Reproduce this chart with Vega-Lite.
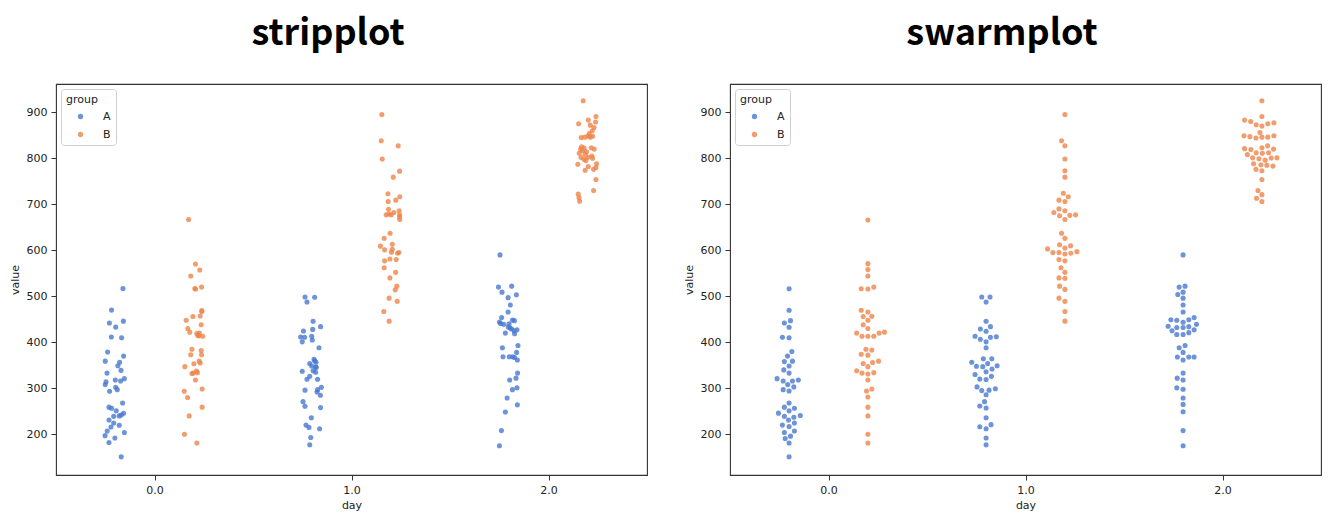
{
  "$schema": "https://vega.github.io/schema/vega-lite/v6.json",
  "background": "white",
  "padding": {"left": 8, "top": 15, "right": 8, "bottom": 7},
  "config": {
    "view": {"stroke": "#333333", "strokeWidth": 1.1},
    "axis": {"grid": false, "domain": false, "labelFont": "DejaVu Sans", "labelFontSize": 11, "labelColor": "#222222", "titleFont": "DejaVu Sans", "titleFontSize": 11, "titleFontWeight": "normal", "titleColor": "#222222", "tickColor": "#333333", "tickSize": 5, "labelPadding": 4},
    "axisY": {"titlePadding": 6},
    "axisX": {"titlePadding": 4},
    "title": {"font": "Noto Sans CJK JP", "fontSize": 36, "fontWeight": "bold", "color": "#000000", "anchor": "middle", "frame": "bounds", "baseline": "alphabetic", "offset": 31},
    "legend": {"orient": "top-left", "offset": 5, "fillColor": "rgba(255,255,255,0.8)", "strokeColor": "#d0d0d0", "cornerRadius": 3, "padding": 5, "titleFont": "DejaVu Sans", "titleFontSize": 11, "titleFontWeight": "normal", "titleColor": "#222222", "titlePadding": 6, "labelFont": "DejaVu Sans", "labelFontSize": 11, "labelColor": "#222222", "symbolType": "circle", "symbolSize": 28, "symbolOpacity": 0.8, "symbolStrokeWidth": 0, "symbolOffset": 9, "labelOffset": 17, "rowPadding": 6}
  },
  "datasets": {
    "strip": [
      {"group":"A","x":-0.160,"value":517},{"group":"A","x":-0.218,"value":470},{"group":"A","x":-0.229,"value":442},{"group":"A","x":-0.197,"value":433},{"group":"A","x":-0.158,"value":446},{"group":"A","x":-0.219,"value":411.5},{"group":"A","x":-0.167,"value":410},{"group":"A","x":-0.238,"value":379},{"group":"A","x":-0.250,"value":359},{"group":"A","x":-0.157,"value":370},{"group":"A","x":-0.177,"value":356.5},{"group":"A","x":-0.186,"value":349},{"group":"A","x":-0.170,"value":339},{"group":"A","x":-0.241,"value":333},{"group":"A","x":-0.153,"value":321},{"group":"A","x":-0.199,"value":318},{"group":"A","x":-0.172,"value":316},{"group":"A","x":-0.246,"value":314},{"group":"A","x":-0.250,"value":308},{"group":"A","x":-0.197,"value":302},{"group":"A","x":-0.189,"value":297},{"group":"A","x":-0.228,"value":293.5},{"group":"A","x":-0.162,"value":268},{"group":"A","x":-0.231,"value":259},{"group":"A","x":-0.218,"value":256.5},{"group":"A","x":-0.194,"value":251},{"group":"A","x":-0.157,"value":245.6},{"group":"A","x":-0.179,"value":240},{"group":"A","x":-0.169,"value":242},{"group":"A","x":-0.207,"value":239},{"group":"A","x":-0.231,"value":231},{"group":"A","x":-0.207,"value":224.6},{"group":"A","x":-0.179,"value":219.6},{"group":"A","x":-0.221,"value":216},{"group":"A","x":-0.240,"value":207},{"group":"A","x":-0.251,"value":197},{"group":"A","x":-0.153,"value":204},{"group":"A","x":-0.201,"value":192},{"group":"A","x":-0.231,"value":182},{"group":"A","x":-0.169,"value":151},
      {"group":"B","x":0.173,"value":667},{"group":"B","x":0.208,"value":570},{"group":"B","x":0.230,"value":557},{"group":"B","x":0.184,"value":544},{"group":"B","x":0.205,"value":517},{"group":"B","x":0.239,"value":520},{"group":"B","x":0.208,"value":516},{"group":"B","x":0.240,"value":467},{"group":"B","x":0.240,"value":469},{"group":"B","x":0.232,"value":457},{"group":"B","x":0.195,"value":456},{"group":"B","x":0.161,"value":448},{"group":"B","x":0.237,"value":438},{"group":"B","x":0.169,"value":430},{"group":"B","x":0.179,"value":422},{"group":"B","x":0.228,"value":420},{"group":"B","x":0.215,"value":419},{"group":"B","x":0.220,"value":415},{"group":"B","x":0.225,"value":414},{"group":"B","x":0.245,"value":413},{"group":"B","x":0.190,"value":385},{"group":"B","x":0.237,"value":382},{"group":"B","x":0.184,"value":373},{"group":"B","x":0.239,"value":373},{"group":"B","x":0.227,"value":359},{"group":"B","x":0.200,"value":353.5},{"group":"B","x":0.232,"value":355},{"group":"B","x":0.154,"value":347},{"group":"B","x":0.213,"value":337.6},{"group":"B","x":0.190,"value":332},{"group":"B","x":0.197,"value":333},{"group":"B","x":0.218,"value":334},{"group":"B","x":0.208,"value":318},{"group":"B","x":0.151,"value":293.5},{"group":"B","x":0.242,"value":298.5},{"group":"B","x":0.168,"value":280},{"group":"B","x":0.242,"value":259},{"group":"B","x":0.176,"value":240},{"group":"B","x":0.152,"value":200},{"group":"B","x":0.215,"value":181},
      {"group":"A","x":0.764,"value":498.5},{"group":"A","x":0.813,"value":498},{"group":"A","x":0.774,"value":487.6},{"group":"A","x":0.805,"value":445.6},{"group":"A","x":0.843,"value":434},{"group":"A","x":0.756,"value":424.6},{"group":"A","x":0.803,"value":428},{"group":"A","x":0.742,"value":411.5},{"group":"A","x":0.762,"value":411},{"group":"A","x":0.798,"value":413},{"group":"A","x":0.750,"value":401},{"group":"A","x":0.801,"value":405},{"group":"A","x":0.835,"value":388},{"group":"A","x":0.810,"value":363},{"group":"A","x":0.813,"value":360},{"group":"A","x":0.788,"value":354},{"group":"A","x":0.820,"value":356.5},{"group":"A","x":0.798,"value":348.5},{"group":"A","x":0.818,"value":346},{"group":"A","x":0.821,"value":345.6},{"group":"A","x":0.805,"value":338},{"group":"A","x":0.750,"value":337},{"group":"A","x":0.818,"value":335},{"group":"A","x":0.788,"value":326},{"group":"A","x":0.774,"value":319.6},{"group":"A","x":0.828,"value":319.6},{"group":"A","x":0.764,"value":296},{"group":"A","x":0.828,"value":297},{"group":"A","x":0.847,"value":302},{"group":"A","x":0.825,"value":292},{"group":"A","x":0.842,"value":285},{"group":"A","x":0.754,"value":271},{"group":"A","x":0.764,"value":261},{"group":"A","x":0.843,"value":258},{"group":"A","x":0.796,"value":236},{"group":"A","x":0.769,"value":220},{"group":"A","x":0.784,"value":215},{"group":"A","x":0.838,"value":212},{"group":"A","x":0.793,"value":193},{"group":"A","x":0.788,"value":177},
      {"group":"B","x":1.154,"value":895},{"group":"B","x":1.151,"value":838},{"group":"B","x":1.237,"value":827},{"group":"B","x":1.156,"value":798.5},{"group":"B","x":1.244,"value":772},{"group":"B","x":1.212,"value":759},{"group":"B","x":1.185,"value":723},{"group":"B","x":1.245,"value":716.5},{"group":"B","x":1.225,"value":709},{"group":"B","x":1.186,"value":706},{"group":"B","x":1.188,"value":689},{"group":"B","x":1.242,"value":686},{"group":"B","x":1.176,"value":677},{"group":"B","x":1.202,"value":677},{"group":"B","x":1.215,"value":682},{"group":"B","x":1.190,"value":679},{"group":"B","x":1.244,"value":677},{"group":"B","x":1.244,"value":673},{"group":"B","x":1.245,"value":667},{"group":"B","x":1.196,"value":637},{"group":"B","x":1.166,"value":626},{"group":"B","x":1.207,"value":613},{"group":"B","x":1.147,"value":609},{"group":"B","x":1.168,"value":601},{"group":"B","x":1.207,"value":602},{"group":"B","x":1.203,"value":596},{"group":"B","x":1.240,"value":595},{"group":"B","x":1.234,"value":593.5},{"group":"B","x":1.195,"value":581},{"group":"B","x":1.168,"value":577},{"group":"B","x":1.227,"value":580},{"group":"B","x":1.166,"value":562},{"group":"B","x":1.224,"value":552},{"group":"B","x":1.195,"value":540},{"group":"B","x":1.230,"value":522},{"group":"B","x":1.222,"value":514},{"group":"B","x":1.191,"value":496},{"group":"B","x":1.232,"value":489},{"group":"B","x":1.164,"value":467},{"group":"B","x":1.191,"value":446},
      {"group":"A","x":1.754,"value":590},{"group":"A","x":1.746,"value":520},{"group":"A","x":1.813,"value":522},{"group":"A","x":1.764,"value":509},{"group":"A","x":1.795,"value":497},{"group":"A","x":1.837,"value":503.5},{"group":"A","x":1.806,"value":481},{"group":"A","x":1.795,"value":466},{"group":"A","x":1.762,"value":454},{"group":"A","x":1.817,"value":448.5},{"group":"A","x":1.827,"value":447},{"group":"A","x":1.751,"value":444},{"group":"A","x":1.757,"value":441},{"group":"A","x":1.800,"value":440},{"group":"A","x":1.773,"value":439},{"group":"A","x":1.796,"value":433},{"group":"A","x":1.805,"value":431},{"group":"A","x":1.813,"value":429},{"group":"A","x":1.840,"value":427},{"group":"A","x":1.825,"value":425},{"group":"A","x":1.828,"value":418.7},{"group":"A","x":1.781,"value":420},{"group":"A","x":1.845,"value":393},{"group":"A","x":1.766,"value":388},{"group":"A","x":1.838,"value":378},{"group":"A","x":1.769,"value":368.7},{"group":"A","x":1.801,"value":368.7},{"group":"A","x":1.818,"value":368.7},{"group":"A","x":1.828,"value":367},{"group":"A","x":1.842,"value":361.5},{"group":"A","x":1.843,"value":333},{"group":"A","x":1.835,"value":322},{"group":"A","x":1.803,"value":318},{"group":"A","x":1.840,"value":301},{"group":"A","x":1.817,"value":297},{"group":"A","x":1.790,"value":279},{"group":"A","x":1.842,"value":264},{"group":"A","x":1.781,"value":248.5},{"group":"A","x":1.761,"value":208},{"group":"A","x":1.751,"value":175},
      {"group":"B","x":2.176,"value":925},{"group":"B","x":2.241,"value":891},{"group":"B","x":2.202,"value":883},{"group":"B","x":2.153,"value":875},{"group":"B","x":2.212,"value":872},{"group":"B","x":2.239,"value":879},{"group":"B","x":2.231,"value":867},{"group":"B","x":2.222,"value":860},{"group":"B","x":2.207,"value":854},{"group":"B","x":2.166,"value":845},{"group":"B","x":2.185,"value":846},{"group":"B","x":2.212,"value":846},{"group":"B","x":2.202,"value":848.5},{"group":"B","x":2.224,"value":848},{"group":"B","x":2.168,"value":825},{"group":"B","x":2.181,"value":822},{"group":"B","x":2.217,"value":823},{"group":"B","x":2.163,"value":820},{"group":"B","x":2.232,"value":820},{"group":"B","x":2.173,"value":817},{"group":"B","x":2.156,"value":811},{"group":"B","x":2.193,"value":814},{"group":"B","x":2.186,"value":809},{"group":"B","x":2.165,"value":802},{"group":"B","x":2.200,"value":802},{"group":"B","x":2.180,"value":798},{"group":"B","x":2.190,"value":795},{"group":"B","x":2.220,"value":805},{"group":"B","x":2.224,"value":800},{"group":"B","x":2.202,"value":782},{"group":"B","x":2.186,"value":774},{"group":"B","x":2.229,"value":776},{"group":"B","x":2.244,"value":788},{"group":"B","x":2.241,"value":780},{"group":"B","x":2.149,"value":787},{"group":"B","x":2.241,"value":754},{"group":"B","x":2.229,"value":730},{"group":"B","x":2.151,"value":722},{"group":"B","x":2.155,"value":714},{"group":"B","x":2.158,"value":706.5}
    ],
    "swarm": [
      {"group":"A","x":-0.200,"value":516.5},{"group":"A","x":-0.200,"value":469.6},{"group":"A","x":-0.224,"value":442},{"group":"A","x":-0.193,"value":447},{"group":"A","x":-0.200,"value":432.6},{"group":"A","x":-0.234,"value":411},{"group":"A","x":-0.200,"value":410},{"group":"A","x":-0.186,"value":380},{"group":"A","x":-0.208,"value":370},{"group":"A","x":-0.224,"value":358},{"group":"A","x":-0.183,"value":359},{"group":"A","x":-0.200,"value":348.5},{"group":"A","x":-0.227,"value":340},{"group":"A","x":-0.200,"value":333},{"group":"A","x":-0.261,"value":321},{"group":"A","x":-0.230,"value":316},{"group":"A","x":-0.183,"value":316},{"group":"A","x":-0.153,"value":318},{"group":"A","x":-0.207,"value":308},{"group":"A","x":-0.176,"value":303},{"group":"A","x":-0.230,"value":297},{"group":"A","x":-0.200,"value":294},{"group":"A","x":-0.200,"value":268},{"group":"A","x":-0.224,"value":259},{"group":"A","x":-0.173,"value":256.5},{"group":"A","x":-0.200,"value":251},{"group":"A","x":-0.254,"value":246},{"group":"A","x":-0.224,"value":239},{"group":"A","x":-0.176,"value":237},{"group":"A","x":-0.143,"value":241},{"group":"A","x":-0.203,"value":231},{"group":"A","x":-0.173,"value":224.5},{"group":"A","x":-0.234,"value":220},{"group":"A","x":-0.200,"value":217},{"group":"A","x":-0.224,"value":204},{"group":"A","x":-0.173,"value":207},{"group":"A","x":-0.193,"value":196},{"group":"A","x":-0.220,"value":191},{"group":"A","x":-0.200,"value":181},{"group":"A","x":-0.200,"value":151},
      {"group":"B","x":0.200,"value":666},{"group":"B","x":0.200,"value":571},{"group":"B","x":0.200,"value":558},{"group":"B","x":0.200,"value":544},{"group":"B","x":0.166,"value":516.5},{"group":"B","x":0.200,"value":516},{"group":"B","x":0.230,"value":520},{"group":"B","x":0.166,"value":469.6},{"group":"B","x":0.200,"value":466},{"group":"B","x":0.176,"value":456},{"group":"B","x":0.220,"value":456.5},{"group":"B","x":0.200,"value":448},{"group":"B","x":0.176,"value":438},{"group":"B","x":0.200,"value":430},{"group":"B","x":0.143,"value":420},{"group":"B","x":0.170,"value":413},{"group":"B","x":0.200,"value":413},{"group":"B","x":0.230,"value":413},{"group":"B","x":0.257,"value":420},{"group":"B","x":0.284,"value":422},{"group":"B","x":0.190,"value":385},{"group":"B","x":0.220,"value":383},{"group":"B","x":0.166,"value":374},{"group":"B","x":0.200,"value":372},{"group":"B","x":0.176,"value":354},{"group":"B","x":0.224,"value":356},{"group":"B","x":0.254,"value":359},{"group":"B","x":0.200,"value":347},{"group":"B","x":0.143,"value":338},{"group":"B","x":0.170,"value":333},{"group":"B","x":0.200,"value":331},{"group":"B","x":0.230,"value":334},{"group":"B","x":0.200,"value":318},{"group":"B","x":0.220,"value":298.5},{"group":"B","x":0.193,"value":294},{"group":"B","x":0.200,"value":281},{"group":"B","x":0.200,"value":259},{"group":"B","x":0.200,"value":240},{"group":"B","x":0.200,"value":200},{"group":"B","x":0.200,"value":181},
      {"group":"A","x":0.778,"value":498.5},{"group":"A","x":0.820,"value":498.5},{"group":"A","x":0.800,"value":487.6},{"group":"A","x":0.800,"value":445.6},{"group":"A","x":0.771,"value":429},{"group":"A","x":0.822,"value":434},{"group":"A","x":0.800,"value":424},{"group":"A","x":0.744,"value":413},{"group":"A","x":0.771,"value":406.5},{"group":"A","x":0.822,"value":411},{"group":"A","x":0.852,"value":412},{"group":"A","x":0.800,"value":401},{"group":"A","x":0.800,"value":388},{"group":"A","x":0.786,"value":364},{"group":"A","x":0.829,"value":364},{"group":"A","x":0.727,"value":356.5},{"group":"A","x":0.751,"value":348},{"group":"A","x":0.783,"value":347},{"group":"A","x":0.808,"value":354},{"group":"A","x":0.856,"value":349},{"group":"A","x":0.830,"value":342},{"group":"A","x":0.800,"value":336},{"group":"A","x":0.744,"value":330},{"group":"A","x":0.827,"value":326},{"group":"A","x":0.768,"value":320},{"group":"A","x":0.800,"value":319},{"group":"A","x":0.754,"value":303},{"group":"A","x":0.847,"value":299},{"group":"A","x":0.778,"value":295},{"group":"A","x":0.815,"value":296},{"group":"A","x":0.800,"value":286},{"group":"A","x":0.792,"value":271},{"group":"A","x":0.768,"value":261.5},{"group":"A","x":0.800,"value":257},{"group":"A","x":0.800,"value":236},{"group":"A","x":0.768,"value":216.5},{"group":"A","x":0.825,"value":221},{"group":"A","x":0.800,"value":212},{"group":"A","x":0.800,"value":192},{"group":"A","x":0.800,"value":177},
      {"group":"B","x":1.200,"value":895},{"group":"B","x":1.183,"value":838},{"group":"B","x":1.200,"value":827},{"group":"B","x":1.200,"value":798.5},{"group":"B","x":1.200,"value":773},{"group":"B","x":1.200,"value":759},{"group":"B","x":1.192,"value":724},{"group":"B","x":1.217,"value":716.5},{"group":"B","x":1.170,"value":709},{"group":"B","x":1.200,"value":706},{"group":"B","x":1.170,"value":690},{"group":"B","x":1.144,"value":682},{"group":"B","x":1.200,"value":686},{"group":"B","x":1.173,"value":675},{"group":"B","x":1.225,"value":676},{"group":"B","x":1.254,"value":677},{"group":"B","x":1.200,"value":667},{"group":"B","x":1.183,"value":637},{"group":"B","x":1.200,"value":626},{"group":"B","x":1.173,"value":612},{"group":"B","x":1.229,"value":610},{"group":"B","x":1.200,"value":605},{"group":"B","x":1.112,"value":603},{"group":"B","x":1.139,"value":595},{"group":"B","x":1.170,"value":595},{"group":"B","x":1.200,"value":592},{"group":"B","x":1.230,"value":593.5},{"group":"B","x":1.261,"value":597},{"group":"B","x":1.170,"value":580},{"group":"B","x":1.200,"value":577},{"group":"B","x":1.180,"value":562},{"group":"B","x":1.200,"value":552},{"group":"B","x":1.170,"value":540},{"group":"B","x":1.200,"value":539},{"group":"B","x":1.173,"value":522},{"group":"B","x":1.200,"value":515},{"group":"B","x":1.170,"value":496},{"group":"B","x":1.200,"value":489},{"group":"B","x":1.200,"value":467},{"group":"B","x":1.200,"value":446},
      {"group":"A","x":1.800,"value":590},{"group":"A","x":1.780,"value":520},{"group":"A","x":1.810,"value":522},{"group":"A","x":1.773,"value":504},{"group":"A","x":1.800,"value":509},{"group":"A","x":1.800,"value":496},{"group":"A","x":1.800,"value":481},{"group":"A","x":1.800,"value":466},{"group":"A","x":1.738,"value":449},{"group":"A","x":1.768,"value":448},{"group":"A","x":1.829,"value":449},{"group":"A","x":1.856,"value":454},{"group":"A","x":1.800,"value":443.5},{"group":"A","x":1.724,"value":435},{"group":"A","x":1.768,"value":432},{"group":"A","x":1.800,"value":432},{"group":"A","x":1.829,"value":434},{"group":"A","x":1.868,"value":439},{"group":"A","x":1.744,"value":425},{"group":"A","x":1.856,"value":427},{"group":"A","x":1.768,"value":417},{"group":"A","x":1.800,"value":417},{"group":"A","x":1.829,"value":421},{"group":"A","x":1.780,"value":388},{"group":"A","x":1.810,"value":393},{"group":"A","x":1.800,"value":378},{"group":"A","x":1.771,"value":368},{"group":"A","x":1.829,"value":368},{"group":"A","x":1.856,"value":368},{"group":"A","x":1.800,"value":361.5},{"group":"A","x":1.800,"value":333},{"group":"A","x":1.770,"value":322},{"group":"A","x":1.800,"value":318},{"group":"A","x":1.768,"value":301},{"group":"A","x":1.800,"value":298},{"group":"A","x":1.800,"value":279},{"group":"A","x":1.800,"value":265},{"group":"A","x":1.800,"value":249},{"group":"A","x":1.800,"value":208},{"group":"A","x":1.800,"value":175},
      {"group":"B","x":2.200,"value":925},{"group":"B","x":2.200,"value":891},{"group":"B","x":2.112,"value":883},{"group":"B","x":2.143,"value":880},{"group":"B","x":2.171,"value":873},{"group":"B","x":2.200,"value":870},{"group":"B","x":2.230,"value":875},{"group":"B","x":2.261,"value":877},{"group":"B","x":2.190,"value":856},{"group":"B","x":2.109,"value":849},{"group":"B","x":2.139,"value":847},{"group":"B","x":2.170,"value":844},{"group":"B","x":2.200,"value":846},{"group":"B","x":2.230,"value":846},{"group":"B","x":2.261,"value":849},{"group":"B","x":2.112,"value":821},{"group":"B","x":2.144,"value":819},{"group":"B","x":2.200,"value":823},{"group":"B","x":2.229,"value":827},{"group":"B","x":2.259,"value":820},{"group":"B","x":2.171,"value":812},{"group":"B","x":2.202,"value":811},{"group":"B","x":2.234,"value":812},{"group":"B","x":2.126,"value":808},{"group":"B","x":2.153,"value":801},{"group":"B","x":2.185,"value":799},{"group":"B","x":2.217,"value":796},{"group":"B","x":2.247,"value":800.6},{"group":"B","x":2.276,"value":801},{"group":"B","x":2.158,"value":788},{"group":"B","x":2.195,"value":786},{"group":"B","x":2.225,"value":785},{"group":"B","x":2.256,"value":783},{"group":"B","x":2.170,"value":776},{"group":"B","x":2.200,"value":773},{"group":"B","x":2.200,"value":754},{"group":"B","x":2.180,"value":730},{"group":"B","x":2.200,"value":721},{"group":"B","x":2.173,"value":713},{"group":"B","x":2.200,"value":706}
    ]
  },
  "hconcat": [
    {
      "title": "stripplot",
      "width": 591,
      "height": 391,
      "data": {"name": "strip"},
      "mark": {"type": "circle", "size": 26, "opacity": 0.8},
      "encoding": {
        "x": {"field": "x", "type": "quantitative", "scale": {"domain": [-0.5, 2.5], "nice": false, "zero": false}, "axis": {"values": [0, 1, 2], "format": ".1f", "title": "day"}},
        "y": {"field": "value", "type": "quantitative", "scale": {"domain": [111.5, 961.5], "nice": false, "zero": false}, "axis": {"values": [200, 300, 400, 500, 600, 700, 800, 900], "title": "value"}},
        "color": {"field": "group", "type": "nominal", "scale": {"domain": ["A", "B"], "range": ["#4878d0", "#ee854a"]}, "legend": {"title": "group"}}
      }
    },
    {
      "title": "swarmplot",
      "width": 591,
      "height": 391,
      "data": {"name": "swarm"},
      "mark": {"type": "circle", "size": 26, "opacity": 0.8},
      "encoding": {
        "x": {"field": "x", "type": "quantitative", "scale": {"domain": [-0.5, 2.5], "nice": false, "zero": false}, "axis": {"values": [0, 1, 2], "format": ".1f", "title": "day"}},
        "y": {"field": "value", "type": "quantitative", "scale": {"domain": [111.5, 961.5], "nice": false, "zero": false}, "axis": {"values": [200, 300, 400, 500, 600, 700, 800, 900], "title": "value"}},
        "color": {"field": "group", "type": "nominal", "scale": {"domain": ["A", "B"], "range": ["#4878d0", "#ee854a"]}, "legend": {"title": "group"}}
      }
    }
  ],
  "spacing": 34,
  "resolve": {"scale": {"color": "independent"}, "legend": {"color": "independent"}}
}
